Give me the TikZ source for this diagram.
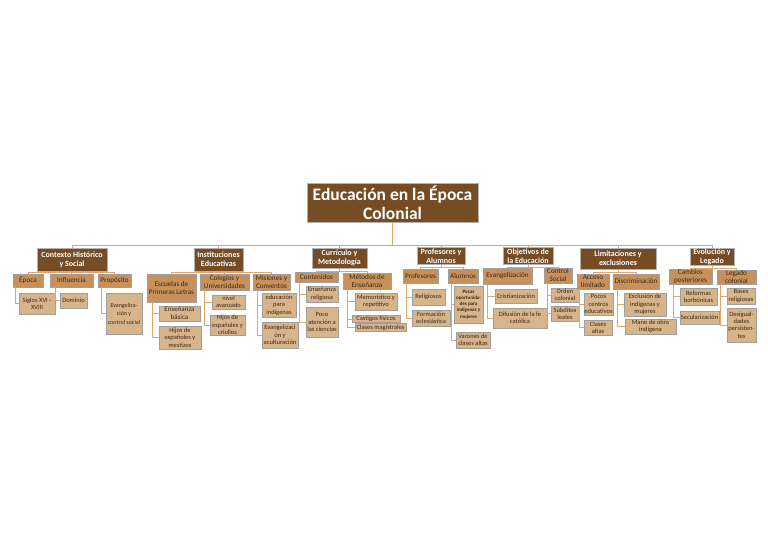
\documentclass[tikz,border=0pt]{standalone}
\usepackage{fontspec}
\setmainfont{Carlito}
\definecolor{titlebrown}{HTML}{754C24}
\definecolor{topicbrown}{HTML}{C8915B}
\definecolor{leafbrown}{HTML}{D8B48B}
\definecolor{inkbrown}{HTML}{3A2816}
\definecolor{linkorange}{HTML}{E2A56B}
\tikzset{sz/.style 2 args={minimum width=#1pt, minimum height=#2pt}}
\begin{document}
\begin{tikzpicture}[x=1pt,y=-1pt]
\tikzstyle{mytitle} = [rectangle, fill=titlebrown, draw=gray!60, text=white, align=center, inner sep=1pt, font=\bfseries\fontsize{17.5}{19}\selectfont]
\tikzstyle{mybranch} = [rectangle, fill=titlebrown, draw=gray!60, text=white, align=center, inner sep=0.5pt, font=\bfseries\fontsize{8}{9}\selectfont]
\tikzstyle{mytopic} = [rectangle, fill=topicbrown, draw=gray!75, text=inkbrown, align=center, inner sep=0.5pt, font=\fontsize{7.2}{8}\selectfont]
\tikzstyle{myleaf} = [rectangle, fill=leafbrown, draw=gray!75, text=inkbrown, align=center, inner sep=0.5pt, font=\fontsize{6.5}{7.3}\selectfont]
\tikzstyle{link} = [draw=linkorange, line width=0.9pt]
\useasboundingbox[fill=white] (0,0) rectangle (768,543);
% title and main branches
\node[mytitle, sz={171}{39}] (title) at (392.5,202.5) {Educación en la Época\\Colonial};
\node[mybranch, sz={70}{23}] (ctx) at (72,259.5) {Contexto Histórico\\y Social};
\node[mybranch, sz={49}{23}] (inst) at (218.5,259.5) {Instituciones\\Educativas};
\node[mybranch, sz={55}{20}] (curr) at (339.5,258) {Currículo y\\Metodología};
\node[mybranch, sz={48}{17}] (prof) at (441,256) {Profesores y\\Alumnos};
\node[mybranch, sz={50}{17}] (obj) at (528,256) {Objetivos de\\la Educación};
\node[mybranch, sz={76}{21}] (lim) at (618,258.5) {Limitaciones y\\exclusiones};
\node[mybranch, sz={44}{17}] (evo) at (712,256.5) {Evolución y\\Legado};
\coordinate (topbus) at ([yshift=-23pt]title.south);
\draw[link] (title.south) -- (topbus);
\draw[link] (ctx.north) |- (topbus) -| (evo.north);
\draw[link] (inst.north) -- (inst.north |- topbus);
\draw[link] (curr.north) -- (curr.north |- topbus);
\draw[link] (prof.north) -- (prof.north |- topbus);
\draw[link] (obj.north) -- (obj.north |- topbus);
\draw[link] (lim.north) -- (lim.north |- topbus);

% Contexto
\node[mytopic, sz={30}{13}] (epoca) at (28,280.5) {Época};
\node[mytopic, sz={43}{13}] (infl) at (71.5,280.5) {Influencia};
\node[mytopic, sz={33}{13}] (prop) at (114.5,280.5) {Propósito};
\node[myleaf, sz={36}{21}] (siglos) at (37,303.5) {Siglos XVI -\\XVIII};
\node[myleaf, sz={27}{15}] (domin) at (73.5,300.5) {Dominio};
\node[myleaf, sz={36}{41}, font=\fontsize{6}{8.5}\selectfont] (evang) at (124,313.5) {Evangeliza-\\ción y\\control social};
\coordinate (ctxbus) at ([yshift=-1.5pt]ctx.south);
\draw[link] (ctx.south) -- (ctxbus);
\draw[link] (epoca.north) |- (ctxbus) -| (prop.north);
\draw[link] (infl.north) -- (infl.north |- ctxbus);
\draw[link] ([xshift=3pt]epoca.south west) |- (siglos.west);
\draw[link] ([xshift=6pt]infl.south west) |- (domin.west);
\draw[link] ([xshift=4pt]prop.south west) |- (evang.west);

% Instituciones
\node[mytopic, sz={49}{28}] (esc) at (171.5,288) {Escuelas de\\Primeras Letras};
\node[mytopic, sz={49}{16}] (coleg) at (224.5,282) {Colegios y\\Universidades};
\node[mytopic, sz={37}{16}] (mis) at (271.5,282) {Misiones y\\Conventos};
\node[myleaf, sz={41}{15}, font=\fontsize{7}{7.8}\selectfont] (ensb) at (179.5,313.5) {Enseñanza\\básica};
\node[myleaf, sz={42}{23}] (hijm) at (180,337.5) {Hijos de\\españoles y\\mestizos};
\node[myleaf, sz={33}{14}] (nivel) at (228.5,302) {nivel\\avanzado};
\node[myleaf, sz={35}{20}] (hijc) at (227.5,325) {Hijos de\\españoles y\\criollos};
\node[myleaf, sz={34}{24}] (educ) at (279,305) {educación\\para\\indígenas};
\node[myleaf, sz={36}{26}] (evac) at (280,335) {Evangelizaci\\ón y\\aculturación};
\coordinate (instbus) at ([yshift=-1.5pt]inst.south);
\draw[link] (inst.south) -- (instbus);
\draw[link] (esc.north) |- (instbus) -| (mis.north);
\draw[link] (coleg.north) -- (coleg.north |- instbus);
\draw[link] ([xshift=6pt]esc.south west) |- (ensb.west);
\draw[link] ([xshift=6pt]esc.south west) |- (hijm.west);
\draw[link] ([xshift=5pt]coleg.south west) |- (nivel.west);
\draw[link] ([xshift=5pt]coleg.south west) |- (hijc.west);
\draw[link] ([xshift=5pt]mis.south west) |- (educ.west);
\draw[link] ([xshift=5pt]mis.south west) |- (evac.west);

% Curriculo
\node[mytopic, sz={43}{10}] (cont) at (316.5,277.5) {Contenidos};
\node[mytopic, sz={48}{16}] (met) at (367,281) {Métodos de\\Enseñanza};
\node[myleaf, sz={32}{16}] (ensr) at (322,294) {Enseñanza\\religiosa};
\node[myleaf, sz={32}{30}] (poco) at (322,322) {Poco\\atención a\\las ciencias};
\node[myleaf, sz={42}{17}] (mem) at (376,301.5) {Memorístico y\\repetitivo};
\node[myleaf, sz={48}{7}] (cast) at (376,319) {Castigos físicos};
\node[myleaf, sz={51}{8}] (clas) at (380.5,327.5) {Clases magistrales};
\coordinate (currbus) at ([yshift=-3.5pt]curr.south);
\draw[link] (curr.south) -- (currbus);
\draw[link] (cont.north) |- (currbus) -| (met.north);
\draw[link] ([xshift=5pt]cont.south west) |- (ensr.west);
\draw[link] ([xshift=5pt]cont.south west) |- (poco.west);
\draw[link] ([xshift=5pt]met.south west) |- (mem.west);
\draw[link] ([xshift=5pt]met.south west) |- (cast.west);
\draw[link] ([xshift=5pt]met.south west) |- (clas.west);

% Profesores
\node[mytopic, sz={35}{14}] (profs) at (420.5,276) {Profesores};
\node[mytopic, sz={30}{14}] (alum) at (463,276) {Alumnos};
\node[myleaf, sz={33}{16}] (relig) at (428.5,297) {Religiosos};
\node[myleaf, sz={38}{16}] (form) at (431,318) {Formación\\eclesiástica};
\node[myleaf, sz={29}{37}, font=\bfseries\fontsize{5}{6.2}\selectfont] (pocas) at (468.5,304.5) {Pocas\\oportunida-\\des para\\indígenas y\\mujeres};
\node[myleaf, sz={34}{16}] (varon) at (473,340) {Varones de\\clases altas};
\coordinate (profbus) at ([yshift=-2.5pt]prof.south);
\draw[link] (prof.south) -- (profbus);
\draw[link] (profs.north) |- (profbus) -| (alum.north);
\draw[link] ([xshift=4pt]profs.south west) |- (relig.west);
\draw[link] ([xshift=4pt]profs.south west) |- (form.west);
\draw[link] ([xshift=4pt]alum.south west) |- (pocas.west);
\draw[link] ([xshift=4pt]alum.south west) |- (varon.west);

% Objetivos
\node[mytopic, sz={49}{16}] (evan) at (507.5,276) {Evangelización};
\node[mytopic, sz={28}{15}] (csoc) at (558,275.5) {Control\\Social};
\node[myleaf, sz={42}{14}] (crist) at (516,296) {Cristianización};
\node[myleaf, sz={54}{20}] (difu) at (520,318) {Difusión de la fe\\católica};
\node[myleaf, sz={28}{14}] (orden) at (565,295) {Orden\\colonial};
\node[myleaf, sz={28}{15}] (subd) at (565,313.5) {Súbditos\\leales};
\coordinate (objbus) at ([yshift=-2.5pt]obj.south);
\draw[link] (obj.south) -- (objbus);
\draw[link] (evan.north) |- (objbus) -| (csoc.north);
\draw[link] ([xshift=5pt]evan.south west) |- (crist.west);
\draw[link] ([xshift=5pt]evan.south west) |- (difu.west);
\draw[link] ([xshift=4pt]csoc.south west) |- (orden.west);
\draw[link] ([xshift=4pt]csoc.south west) |- (subd.west);

% Limitaciones
\node[mytopic, sz={32}{15}] (acc) at (593,281.5) {Acceso\\limitado};
\node[mytopic, sz={46}{15}] (disc) at (636,281.5) {Discriminación};
\node[myleaf, sz={29}{22}] (pocos) at (598.5,304) {Pocos\\centros\\educativos};
\node[myleaf, sz={28}{15}] (clalt) at (598,327.5) {Clases\\altas};
\node[myleaf, sz={42}{23}] (excl) at (645,304.5) {Exclusión de\\indígenas y\\mujeres};
\node[myleaf, sz={51}{15}] (mano) at (650.5,326.5) {Mano de obra\\indígena};
\coordinate (limbus) at ([yshift=-3.5pt]lim.south);
\draw[link] (lim.south) -- (limbus);
\draw[link] (acc.north) |- (limbus) -| (disc.north);
\draw[link] ([xshift=3pt]acc.south west) |- (pocos.west);
\draw[link] ([xshift=3pt]acc.south west) |- (clalt.west);
\draw[link] ([xshift=5pt]disc.south west) |- (excl.west);
\draw[link] ([xshift=5pt]disc.south west) |- (mano.west);

% Evolucion
\node[mytopic, sz={43}{14}] (camb) at (690.5,277) {Cambios\\posteriores};
\node[mytopic, sz={39}{14}] (leg) at (736.5,277) {Legado\\colonial};
\node[myleaf, sz={37}{17}] (refo) at (698.5,296.5) {Reformas\\borbónicas};
\node[myleaf, sz={39}{13}] (secu) at (699.5,317.5) {Secularización};
\node[myleaf, sz={28}{16}] (base) at (741,296) {Bases\\religiosas};
\node[myleaf, sz={29}{34}] (desi) at (741.5,325) {Desigual-\\dades\\persisten-\\tes};
\coordinate (evobus) at ([yshift=-3.5pt]evo.south);
\draw[link] (evo.south) -- (evobus);
\draw[link] (camb.north) |- (evobus) -| (leg.north);
\draw[link] ([xshift=5pt]camb.south west) |- (refo.west);
\draw[link] ([xshift=5pt]camb.south west) |- (secu.west);
\draw[link] ([xshift=4pt]leg.south west) |- (base.west);
\draw[link] ([xshift=4pt]leg.south west) |- (desi.west);
\end{tikzpicture}
\end{document}
